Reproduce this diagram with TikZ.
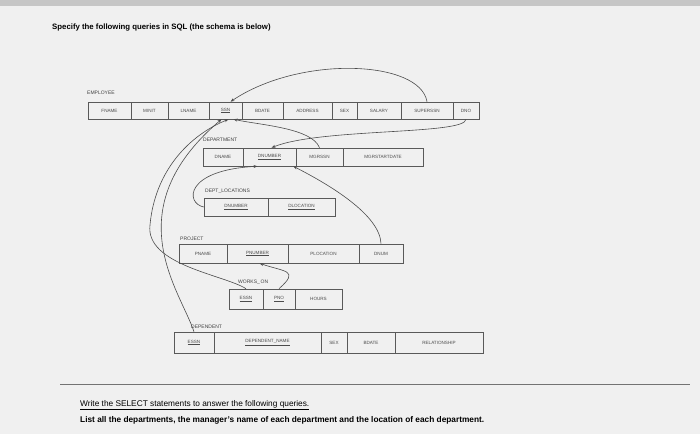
\documentclass[tikz,border=0pt]{standalone}
\usepackage{fontspec}
\setmainfont{Liberation Sans}
\usetikzlibrary{arrows.meta}
\newcommand{\cellbox}[6]{\node[cellst,minimum width={(#3-#2)*1pt},minimum height={(#5-#4)*1pt}] (#1) at ({(#2+#3)/2},{(#4+#5)/2}) {#6};}
\begin{document}
\begin{tikzpicture}[x=1pt,y=-1pt,
  cellst/.style={draw=black!65,line width=0.6pt,inner sep=0pt,font=\fontsize{4.6}{5}\selectfont,text=black!70},
  lbl/.style={anchor=west,inner sep=0pt,font=\fontsize{5}{6}\selectfont,text=black!75},
  fk/.style={draw=black!70,line width=0.6pt,-{Stealth[length=4pt,width=3pt]}}]
\fill[gray!12] (0,0) rectangle (700,434);
\fill[gray!45] (0,0) rectangle (700,6);
\node[anchor=west,inner sep=0pt,font=\fontsize{7.8}{9}\selectfont\bfseries] (title) at (52,27) {Specify the following queries in SQL (the schema is below)};
% EMPLOYEE
\node[lbl] (lemp) at (87,93) {EMPLOYEE};
\cellbox{e1}{88}{131}{102}{119}{FNAME}
\cellbox{e2}{131}{168}{102}{119}{MINIT}
\cellbox{e3}{168}{209}{102}{119}{LNAME}
\cellbox{e4}{209}{242}{102}{119}{\underline{SSN}}
\cellbox{e5}{242}{283}{102}{119}{BDATE}
\cellbox{e6}{283}{332}{102}{119}{ADDRESS}
\cellbox{e7}{332}{357}{102}{119}{SEX}
\cellbox{e8}{357}{401}{102}{119}{SALARY}
\cellbox{e9}{401}{453}{102}{119}{SUPERSSN}
\cellbox{e10}{453}{479}{102}{119}{DNO}
% DEPARTMENT
\node[lbl] (ldep) at (203,140) {DEPARTMENT};
\cellbox{d1}{203}{243}{148}{166}{DNAME}
\cellbox{d2}{243}{296}{148}{166}{\underline{DNUMBER}}
\cellbox{d3}{296}{343}{148}{166}{MGRSSN}
\cellbox{d4}{343}{423}{148}{166}{MGRSTARTDATE}
% DEPT_LOCATIONS
\node[lbl] (lloc) at (205,191) {DEPT\_LOCATIONS};
\cellbox{l1}{204}{268}{198}{216}{\underline{DNUMBER}}
\cellbox{l2}{268}{335}{198}{216}{\underline{DLOCATION}}
% PROJECT
\node[lbl] (lproj) at (180,239) {PROJECT};
\cellbox{p1}{179}{227}{244}{263}{PNAME}
\cellbox{p2}{227}{288}{244}{263}{\underline{PNUMBER}}
\cellbox{p3}{288}{359}{244}{263}{PLOCATION}
\cellbox{p4}{359}{403}{244}{263}{DNUM}
% WORKS_ON
\node[lbl] (lw) at (238,282) {WORKS\_\,ON};
\cellbox{w1}{229}{263}{289}{309}{\underline{ESSN}}
\cellbox{w2}{263}{295}{289}{309}{\underline{PNO}}
\cellbox{w3}{295}{342}{289}{309}{HOURS}
% DEPENDENT
\node[lbl] (ldp) at (191,327) {DEPENDENT};
\cellbox{t1}{174}{214}{332}{353}{\underline{ESSN}}
\cellbox{t2}{214}{321}{332}{353}{\underline{DEPENDENT\_NAME}}
\cellbox{t3}{321}{347}{332}{353}{SEX}
\cellbox{t4}{347}{395}{332}{353}{BDATE}
\cellbox{t5}{395}{483}{332}{353}{RELATIONSHIP}
% connectors
\draw[fk] (e9.north) .. controls (420,60) and (300,55) .. ([xshift=5pt]e4.north);
\draw[fk] (d3.north) .. controls (312,128) and (260,125) .. ([xshift=8pt]e4.south);
\draw[fk] (e10.south) .. controls (465,135) and (320,128) .. ([xshift=2pt]d2.north);
\draw[fk] (l1.west) .. controls (185,203) and (185,170) .. ([xshift=-12pt]d2.south);
\draw[fk] (p4.north) .. controls (380,215) and (330,185) .. ([xshift=-3pt]d2.south east);
\draw[fk] (t1.north) .. controls (180,290) and (115,210) .. ([xshift=-4pt]e4.south);
\draw[fk] (w1.north) .. controls (225,275) and (145,265) .. (150,225) .. controls (155,170) and (190,135) .. ([xshift=3pt]e4.south);
\draw[fk] (w2.north) .. controls (300,270) and (285,272) .. ([xshift=2pt]p2.south);
% bottom
\draw[black!55,line width=0.6pt] (60,384) -- (690,384);
\node[anchor=west,inner sep=0pt,font=\fontsize{8.3}{10}\selectfont] (q1) at (80,405) {\underline{Write the SELECT statements to answer the following queries.}};
\node[anchor=west,inner sep=0pt,font=\fontsize{8.3}{10}\selectfont\bfseries] (q2) at (80,420) {List all the departments, the manager's name of each department and the location of each department.};
\end{tikzpicture}
\end{document}
